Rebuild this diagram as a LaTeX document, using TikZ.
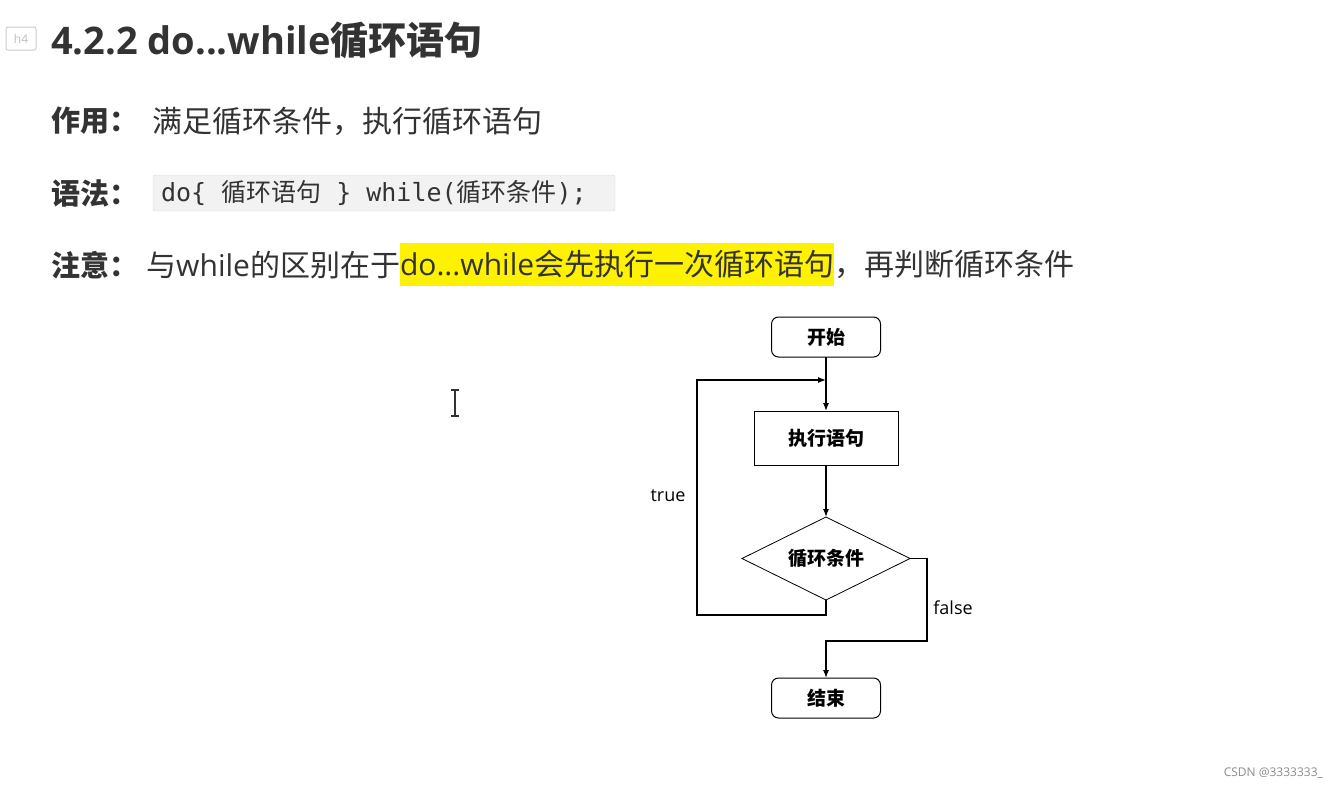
\documentclass[tikz,border=0pt]{standalone}
\usepackage{fontspec}
\setmainfont{Noto Sans CJK SC}
\newfontfamily\cjk{Noto Sans CJK SC}
\newfontfamily\monof{DejaVu Sans Mono}
\newfontfamily\latf{Open Sans}
\usetikzlibrary{shapes.geometric,arrows.meta}
\definecolor{txt}{HTML}{333333}
\tikzset{
  every node/.style={inner sep=0pt,outer sep=0pt,text=txt},
  term/.style={draw=black,rounded corners=7pt,minimum width=109pt,minimum height=40pt,line width=1pt,font=\fontsize{19}{19}\selectfont\bfseries,text=black},
  proc/.style={draw=black,minimum width=144pt,minimum height=54pt,line width=1pt,font=\fontsize{19}{19}\selectfont\bfseries,text=black},
  dec/.style={draw=black,diamond,aspect=2,minimum width=168pt,minimum height=83pt,line width=0.8pt,font=\fontsize{19}{19}\selectfont\bfseries,text=black},
  conn/.style={line width=1.2pt,-{Latex[length=8pt,width=6pt]}},
  lbl/.style={font=\latf\fontsize{18}{18}\selectfont,text=black},
  body/.style={anchor=west,font=\fontsize{30}{30}\selectfont},
  head/.style={anchor=west,font=\fontsize{29}{29}\selectfont\bfseries}
}
\begin{document}
\begin{tikzpicture}[x=1pt,y=-1pt]
\useasboundingbox[fill=white] (0,0) rectangle (1338,788);
% h4 tag
\draw[draw=black!20,rounded corners=2pt,line width=1pt] (6,27) rectangle (36,50);
\node[text=black!25,font=\latf\fontsize{12}{12}\selectfont] (h4) at (21,38.5) {h4};
\node[anchor=west,font=\fontsize{38}{38}\selectfont\bfseries] (title) at (51,40) {{\latf 4.2.2 do...while}循环语句};
% lines
\node[head] (l1) at (51,121) {作用：};
\node[body] (t1) at (152,121) {满足循环条件，执行循环语句};
\node[head] (l2) at (51,193) {语法：};
\draw[fill=black!5,draw=black!15,rounded corners=2pt] (153,175) rectangle (615,211);
\node[anchor=west,font=\fontsize{25}{25}\selectfont] (code) at (161,193) {{\monof do\{ }循环语句{\monof\ \} while(}循环条件{\monof );}};
\node[head] (l3) at (51,265) {注意：};
\node[body,anchor=east] (t3a) at (400,265) {与{\latf while}的区别在于};
\node[body,fill=yellow,minimum height=43pt] (t3b) at (400,264.5) {{\latf do...while}会先执行一次循环语句};
\node[body] (t3c) at (t3b.east) {，再判断循环条件};
% cursor
\draw[line width=1.5pt,black!80] (455,391)--(455,415) (451,390)--(459,390) (451,416)--(459,416);
% flowchart
\node[term] (start) at (826,337) {开始};
\node[proc] (exec) at (826,438) {执行语句};
\node[dec] (cond) at (826,558.5) {循环条件};
\node[term] (end) at (826,698) {结束};
\coordinate (join) at (826,380);
\draw[conn] (start) -- (exec);
\draw[conn] (exec) -- (cond);
\draw[conn] (cond.south) -- ++(0,15) -| (697,380) -- (join);
\draw[conn] (cond.east) -- ++(17,0) |- (826,641) -- (end);
\node[lbl] (tl) at (668,496) {true};
\node[lbl] (fl) at (953,608) {false};
\node[anchor=east,text=black!45,font=\latf\fontsize{12}{12}\selectfont] (csdn) at (1323,773) {CSDN @3333333\_};
\end{tikzpicture}
\end{document}
